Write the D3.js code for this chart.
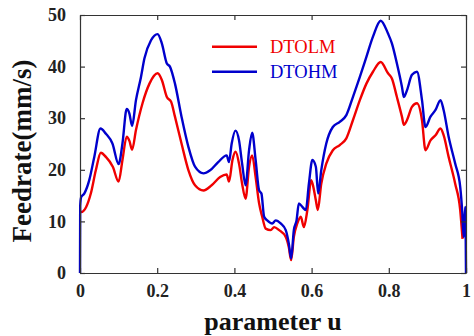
<!DOCTYPE html>
<html>
<head>
<meta charset="utf-8">
<script src="https://cdn.jsdelivr.net/npm/d3@7"></script>
<style>
  html, body { margin: 0; padding: 0; background: #fff; }
  svg { display: block; }
</style>
</head>
<body>
<svg id="chart" width="474" height="336"></svg>
<script>
// Feedrate profiles along the curve parameter u
const seriesNames = ["DTOLM", "DTOHM"];
const seriesColors = ["#f00000", "#0000cc"];

const uLow = [0, 0.003, 0.016, 0.028, 0.041, 0.054, 0.067, 0.085, 0.100, 0.110, 0.121, 0.128, 0.135, 0.145, 0.162, 0.180, 0.201,
  0.212, 0.225, 0.236, 0.246, 0.263, 0.281, 0.298, 0.320, 0.341, 0.363, 0.380, 0.386, 0.395, 0.403,
  0.412, 0.420, 0.429, 0.438, 0.446, 0.455, 0.464, 0.472, 0.481, 0.494, 0.503, 0.516, 0.533, 0.541, 0.547, 0.554, 0.563, 0.572, 0.580, 0.589, 0.599, 0.605, 0.611,
  0.616, 0.625, 0.638, 0.655, 0.673, 0.690, 0.707, 0.725, 0.742, 0.759, 0.779, 0.798, 0.808, 0.821,
  0.834, 0.839, 0.847, 0.860, 0.873, 0.886, 0.895, 0.908, 0.921, 0.934, 0.942, 0.955, 0.972, 0.985, 0.991];
const vLow = [12.0, 11.8, 12.8, 15.4, 19.9, 23.3, 22.5, 20.6, 17.7, 21.9, 26.4, 25.6, 23.9, 27.7, 32.9, 36.7, 38.7,
  37.4, 34.1, 33.2, 30.3, 25.1, 19.9, 17.0, 16.0, 17.0, 18.6, 19.1, 17.7, 21.9, 23.5,
  21.2, 17.3, 14.4, 20.6, 22.8, 18.6, 13.5, 10.9, 8.6, 8.3, 8.9, 8.3, 7.0, 5.0, 2.5, 7.0, 9.6, 10.9, 8.9, 12.2, 18.0, 16.5, 14.1,
  12.2, 17.3, 21.2, 23.8, 24.8, 26.1, 29.6, 33.5, 36.7, 39.0, 40.9, 38.7, 37.7, 34.1,
  30.3, 28.7, 29.6, 32.2, 32.9, 29.6, 23.8, 25.7, 26.7, 28.0, 26.7, 22.5, 17.3, 12.2, 6.6];

const uHigh = [0, 0.0005, 0.003, 0.011, 0.024, 0.037, 0.053, 0.067, 0.084, 0.100, 0.110, 0.121, 0.128, 0.135, 0.145, 0.158, 0.167, 0.184, 0.201,
  0.212, 0.225, 0.233, 0.246, 0.263, 0.281, 0.298, 0.320, 0.337, 0.358, 0.380, 0.386, 0.393, 0.403,
  0.412, 0.420, 0.429, 0.438, 0.446, 0.455, 0.464, 0.470, 0.477, 0.485, 0.498, 0.507, 0.520, 0.533, 0.541, 0.547, 0.554, 0.561, 0.567, 0.576, 0.585, 0.593, 0.602, 0.611,
  0.617, 0.625, 0.638, 0.655, 0.673, 0.690, 0.707, 0.725, 0.742, 0.759, 0.779, 0.798, 0.808, 0.821,
  0.834, 0.839, 0.847, 0.860, 0.873, 0.886, 0.895, 0.908, 0.921, 0.934, 0.942, 0.955, 0.972, 0.985, 0.990, 0.994, 0.998, 1.0];
const vHigh = [0, 13.0, 14.7, 15.4, 18.0, 22.5, 28.0, 27.0, 25.1, 21.1, 25.1, 31.8, 30.9, 28.5, 33.5, 38.0, 41.6, 45.1, 46.3,
  44.5, 40.6, 40.0, 36.7, 30.3, 24.4, 20.6, 19.3, 19.9, 21.5, 22.8, 21.5, 25.1, 27.6,
  25.7, 21.2, 17.0, 23.8, 27.2, 21.9, 16.0, 15.4, 10.9, 10.2, 9.6, 10.2, 9.6, 8.3, 5.7, 2.8, 8.3, 10.2, 13.5, 12.8, 12.2, 17.3, 21.9, 20.6,
  15.4, 19.9, 25.1, 28.3, 29.3, 30.6, 34.1, 38.0, 41.9, 45.8, 48.9, 46.4, 44.5, 40.6,
  36.1, 34.1, 35.4, 38.4, 39.0, 33.5, 28.3, 30.3, 31.6, 33.5, 31.6, 26.4, 21.2, 16.7, 12.2, 7.0, 12.8, 0];

const xTicks = [0, 0.2, 0.4, 0.6, 0.8, 1];
const xTickLabels = ["0", "0.2", "0.4", "0.6", "0.8", "1"];
const yTicks = [0, 10, 20, 30, 40, 50];

const svg = d3.select("#chart");
const margin = { left: 80, right: 8, top: 15, bottom: 63 };
const W = 474, H = 336;
const x = d3.scaleLinear().domain([0, 1]).range([margin.left, W - margin.right]);
const y = d3.scaleLinear().domain([0, 50]).range([H - margin.bottom, margin.top]);

const serif = "'Liberation Serif', 'Times New Roman', serif";

// Curves
const line = d3.line().x(d => x(d[0])).y(d => y(d[1])).curve(d3.curveMonotoneX);
const series = [d3.zip(uLow, vLow), d3.zip(uHigh, vHigh)];
series.forEach((pts, i) => {
  svg.append("path")
    .datum(pts)
    .attr("d", line)
    .attr("fill", "none")
    .attr("stroke", seriesColors[i])
    .attr("stroke-width", 2.4)
    .attr("stroke-linejoin", "round");
});

// Box axes with inward ticks
const tickLen = 5;
function styleAxis(g) {
  g.selectAll("path.domain").attr("stroke", "#333").attr("stroke-width", 1.2);
  g.selectAll(".tick line").attr("stroke", "#333").attr("stroke-width", 1.2);
}
const xb = svg.append("g").attr("transform", `translate(0,${y(0)})`)
  .call(d3.axisBottom(x).tickValues(xTicks).tickSizeInner(-tickLen).tickSizeOuter(0)
    .tickFormat((d, i) => xTickLabels[i]).tickPadding(11));
const xt = svg.append("g").attr("transform", `translate(0,${y(50)})`)
  .call(d3.axisTop(x).tickValues(xTicks).tickSizeInner(-tickLen).tickSizeOuter(0).tickFormat(""));
const yl = svg.append("g").attr("transform", `translate(${x(0)},0)`)
  .call(d3.axisLeft(y).tickValues(yTicks).tickSizeInner(-tickLen).tickSizeOuter(0).tickPadding(14));
const yr = svg.append("g").attr("transform", `translate(${x(1)},0)`)
  .call(d3.axisRight(y).tickValues(yTicks).tickSizeInner(-tickLen).tickSizeOuter(0).tickFormat(""));
[xb, xt, yl, yr].forEach(styleAxis);
[xb, yl].forEach(g => g.selectAll(".tick text")
  .attr("font-family", serif).attr("font-weight", "bold").attr("font-size", 18).attr("fill", "#222"));

// Axis titles
svg.append("text")
  .attr("x", (x(0) + x(1)) / 2).attr("y", 330)
  .attr("text-anchor", "middle")
  .attr("font-family", serif).attr("font-weight", "bold").attr("font-size", 26).attr("fill", "#111")
  .text("parameter u");
svg.append("text")
  .attr("transform", `translate(31,151) rotate(-90)`)
  .attr("text-anchor", "middle")
  .attr("font-family", serif).attr("font-weight", "bold").attr("font-size", 27).attr("fill", "#111")
  .text("Feedrate(mm/s)");

// Legend
const legend = svg.append("g");
seriesNames.forEach((name, i) => {
  const ly = 46.7 + i * 25;
  legend.append("line")
    .attr("x1", 212).attr("x2", 257).attr("y1", ly).attr("y2", ly)
    .attr("stroke", seriesColors[i]).attr("stroke-width", 2.6);
  legend.append("text")
    .attr("x", 270).attr("y", ly + 6.5)
    .attr("font-family", serif).attr("font-size", 18.5).attr("fill", seriesColors[i])
    .text(name);
});
</script>
</body>
</html>
